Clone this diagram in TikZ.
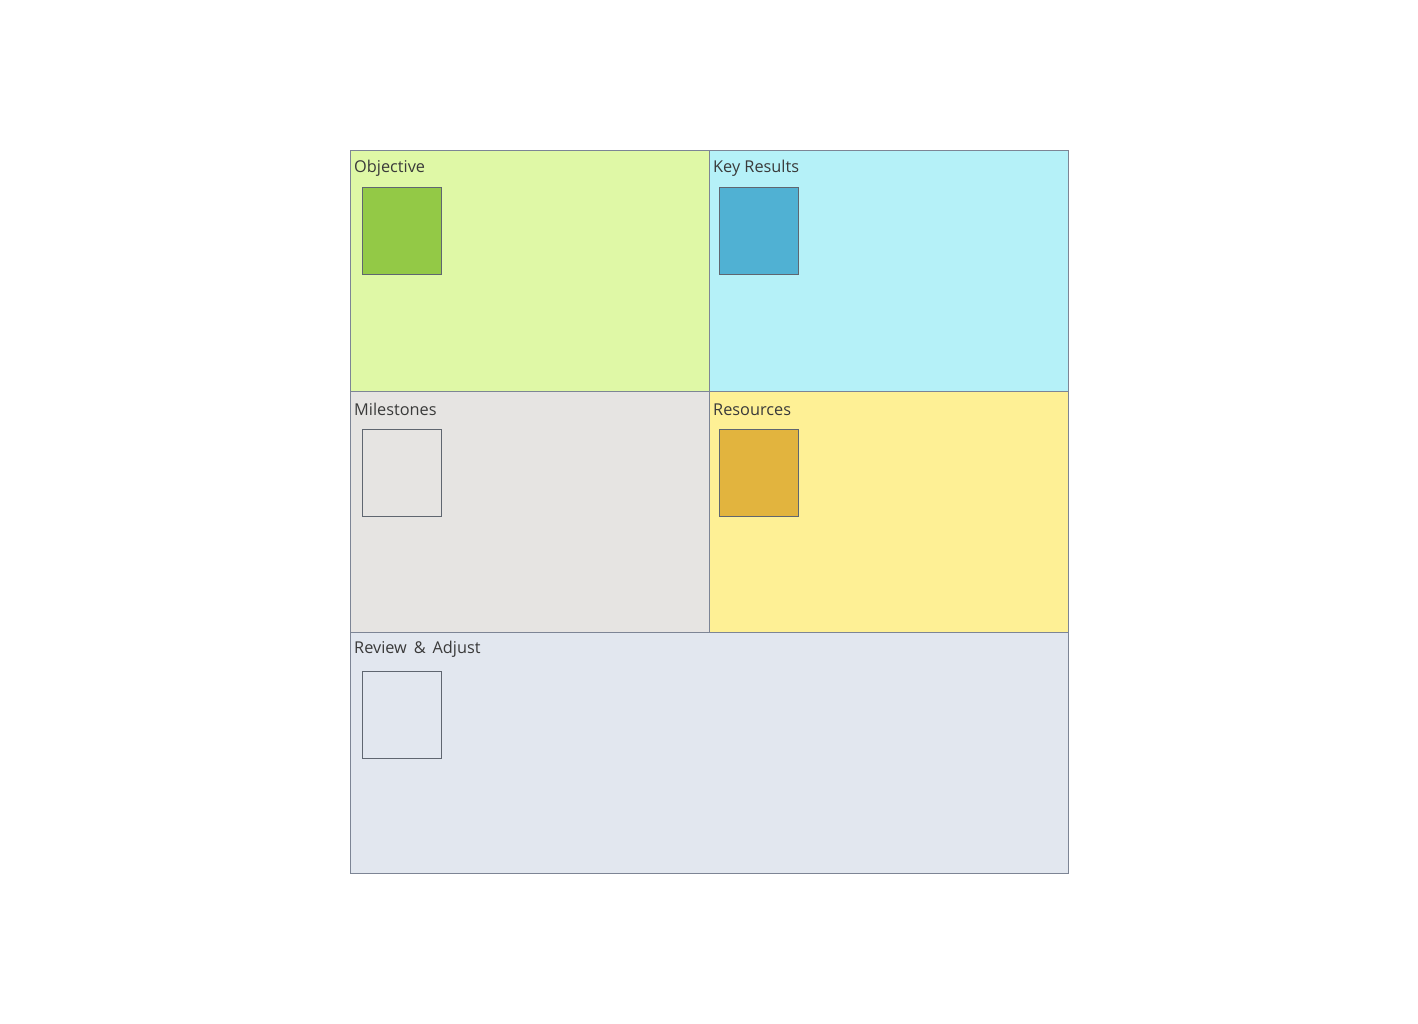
\documentclass[tikz,border=0pt]{standalone}
\usepackage{fontspec}
\setmainfont{Open Sans}
\definecolor{objbg}{HTML}{DFF8A6}
\definecolor{objsq}{HTML}{93C946}
\definecolor{krbg}{HTML}{B5F1F8}
\definecolor{krsq}{HTML}{50B1D3}
\definecolor{msbg}{HTML}{E6E4E2}
\definecolor{rsbg}{HTML}{FEF095}
\definecolor{rssq}{HTML}{E2B43E}
\definecolor{rvbg}{HTML}{E2E7EF}
\definecolor{frame}{HTML}{7D8595}
\definecolor{sqline}{HTML}{5F6670}
\definecolor{txt}{HTML}{3A3A3A}
\begin{document}
\begin{tikzpicture}[x=1pt,y=-1pt,
  cell/.style={draw=frame, line width=1pt},
  sq/.style={draw=sqline, line width=1.2pt, minimum width=79pt, minimum height=87pt, inner sep=0pt, anchor=north west},
  lbl/.style={anchor=west, inner sep=0pt, text=txt, font=\fontsize{16.3}{19}\selectfont}]
\useasboundingbox (0,0) rectangle (1418,1024);
\fill[white] (0,0) rectangle (1418,1024);
\path[cell, fill=objbg] (350,151) rectangle (709,391);
\path[cell, fill=krbg] (709,151) rectangle (1068,391);
\path[cell, fill=msbg] (350,391) rectangle (709,632);
\path[cell, fill=rsbg] (709,391) rectangle (1068,632);
\path[cell, fill=rvbg] (350,632) rectangle (1068,873);
\node[lbl] (tobj) at (354,168.5) {Objective};
\node[lbl] (tkr) at (713,168.5) {Key Results};
\node[lbl] (tms) at (354,409.5) {Milestones};
\node[lbl] (trs) at (713,409.5) {Resources};
\node[lbl] (trv) at (354,649.5) {Review \,\&\, Adjust};
\node[sq, fill=objsq] (sobj) at (362,187) {};
\node[sq, fill=krsq] (skr) at (719,187) {};
\node[sq, fill=msbg] (sms) at (362,429) {};
\node[sq, fill=rssq] (srs) at (719,429) {};
\node[sq, fill=rvbg] (srv) at (362,671) {};
\end{tikzpicture}
\end{document}
